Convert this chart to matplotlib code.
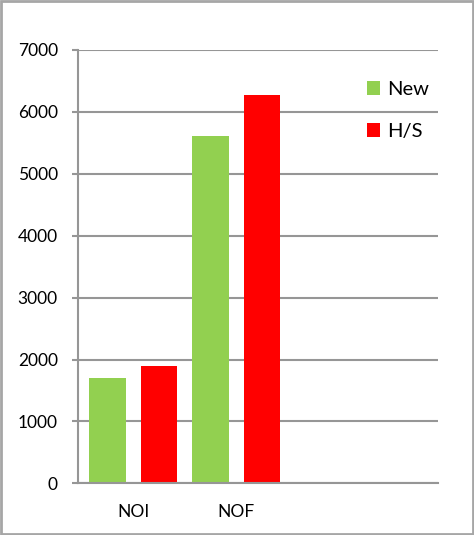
import matplotlib
matplotlib.use("Agg")
import matplotlib.pyplot as plt
from matplotlib.patches import Rectangle
import numpy as np

# chart data
categories = ["NOI", "NOF"]
new_values = [1700, 5610]
hs_values = [1890, 6270]
y_ticks = [0, 1000, 2000, 3000, 4000, 5000, 6000, 7000]

plt.rcParams['font.family'] = ['Lato', 'DejaVu Sans']

fig = plt.figure(figsize=(4.74, 5.35), dpi=100)
ax = fig.add_axes([0.1646, 0.0966, 0.7595, 0.81])

x = np.arange(len(categories))
width = 0.355
ax.bar(x - 0.25, new_values, width, color='#92D050', label='New', zorder=3)
ax.bar(x + 0.25, hs_values, width, color='#FF0000', label='H/S', zorder=3)

ax.set_xlim(-0.534, 2.96)
ax.set_ylim(0, 7000)
ax.set_yticks(y_ticks)
ax.set_xticks(x)
ax.set_xticklabels(categories)

grid_col = '#969696'
ax.yaxis.grid(True, color=grid_col, linewidth=1.5, zorder=0)
for s in ['top', 'right']:
    ax.spines[s].set_visible(False)
ax.spines['left'].set_color(grid_col)
ax.spines['left'].set_linewidth(1.5)
ax.spines['bottom'].set_color(grid_col)
ax.spines['bottom'].set_linewidth(1.5)
ax.spines['bottom'].set_zorder(4)
ax.tick_params(axis='y', length=4.5, width=1.5, color=grid_col, pad=10, labelsize=12.5)
ax.tick_params(axis='x', length=0, pad=15, labelsize=12.5)

leg = ax.legend(loc='upper left', bbox_to_anchor=(367 / 474, 1 - 81 / 535),
                bbox_transform=fig.transFigure, frameon=False, fontsize=14.5,
                handlelength=0.65, handleheight=0.65, handletextpad=0.35,
                labelspacing=1.25, borderpad=0, borderaxespad=0)

# grey frame round the whole picture
fig.patches.append(Rectangle((0.002, 0.002), 0.996, 0.996, transform=fig.transFigure,
                             fill=False, edgecolor='#a6a6a6', linewidth=2))

fig.savefig("out.png", dpi=100)
